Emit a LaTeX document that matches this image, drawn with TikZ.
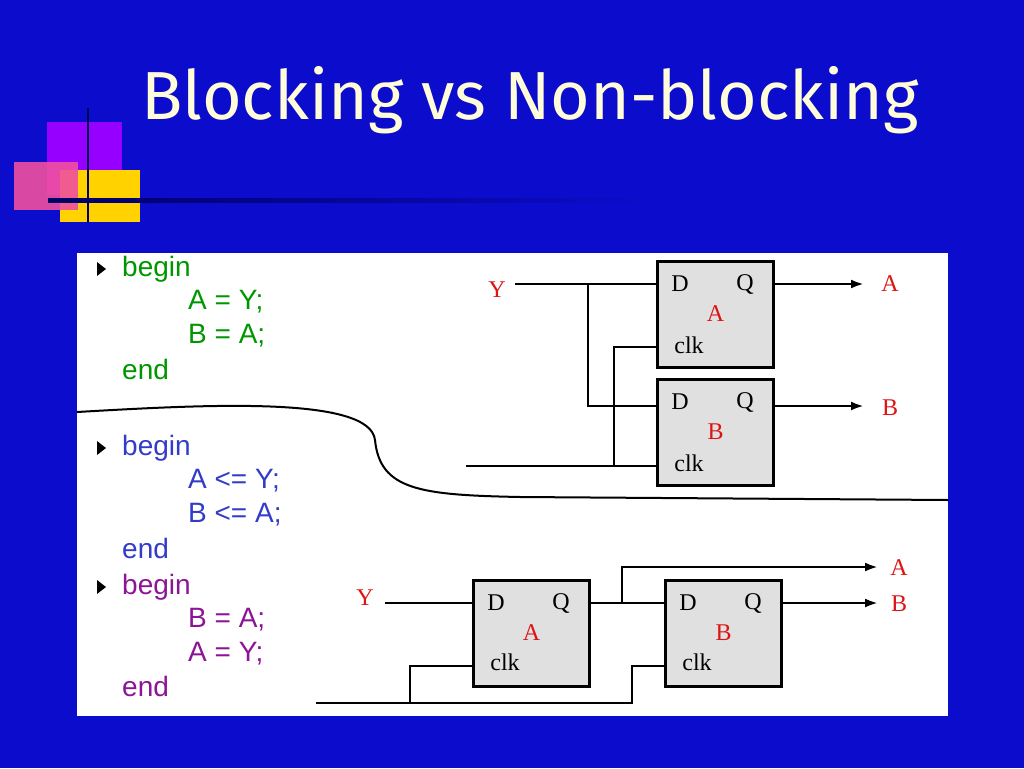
\documentclass[tikz,border=0pt]{standalone}
\usepackage{fontspec}
\setmainfont{Liberation Serif}
\newfontfamily\arialf{Liberation Sans}
\newfontfamily\titlef{Fira Sans}
\usetikzlibrary{arrows.meta}
\definecolor{bg}{RGB}{12,12,204}
\definecolor{gfill}{RGB}{224,224,224}
\definecolor{cgreen}{RGB}{0,150,0}
\definecolor{cblue}{RGB}{50,60,200}
\definecolor{cpurp}{RGB}{140,20,150}
\definecolor{cred}{RGB}{220,20,20}
\definecolor{dviolet}{RGB}{150,0,255}
\definecolor{dpink}{RGB}{240,80,160}
\definecolor{dyellow}{RGB}{255,210,0}
\begin{document}
\begin{tikzpicture}[x=1pt,y=-1pt,
  ff/.style={draw=black,line width=3pt,fill=gfill,minimum width=116pt,minimum height=106pt,anchor=north west},
  wire/.style={line width=2.5pt,black},
  arr/.style={wire,-{Latex[length=13pt,width=9pt]}},
  pin/.style={font=\fontsize{24}{24}\selectfont,inner sep=0pt},
  code/.style={font=\arialf\fontsize{28}{30}\selectfont,anchor=west,inner sep=0pt}]
\useasboundingbox (0,0) rectangle (1024,768);
\fill[bg] (0,0) rectangle (1024,768);
% decoration
\fill[dviolet] (47,122) rectangle (122,195);
\fill[dyellow] (60,170) rectangle (140,222);
\fill[dpink,opacity=0.9] (14,162) rectangle (78,210);
\draw[line width=2pt,black!70!blue] (88,108) -- (88,222);
\shade[left color=black!60!blue,right color=bg] (48,198) rectangle (650,202);
\node[font=\titlef\fontsize{68}{70}\selectfont,text=yellow!15!white] (title) at (530,100) {Blocking vs Non-blocking};
% panel
\fill[white] (77,253) rectangle (948,716);
% code
\foreach \y in {269,448,587}{\fill (97,\y-7) -- (106,\y) -- (97,\y+7) -- cycle;}
\node[code,text=cgreen] (c1) at (122,269) {begin};
\node[code,text=cgreen] (c2) at (188,302) {A = Y;};
\node[code,text=cgreen] (c3) at (188,336) {B = A;};
\node[code,text=cgreen] (c4) at (122,369) {end};
\node[code,text=cblue] (d1) at (122,448) {begin};
\node[code,text=cblue] (d2) at (188,481) {A <= Y;};
\node[code,text=cblue] (d3) at (188,515) {B <= A;};
\node[code,text=cblue] (d4) at (122,548) {end};
\node[code,text=cpurp] (e1) at (122,587) {begin};
\node[code,text=cpurp] (e2) at (188,620) {B = A;};
\node[code,text=cpurp] (e3) at (188,654) {A = Y;};
\node[code,text=cpurp] (e4) at (122,686) {end};
% curve
\draw[line width=2pt] (77,412) .. controls (200,405) and (370,395) .. (375,440) .. controls (380,490) and (420,495) .. (520,497) -- (948,500);
% top flip flops
\node[ff] (f1) at (656,260) {};
\node[ff] (f2) at (656,378) {};
\foreach \f/\l in {f1/A,f2/B}{
  \node[pin] at ([shift={(24,24)}]\f.north west) {D};
  \node[pin] at ([shift={(-30,24)}]\f.north east) {Q};
  \node[pin,text=cred] at ([shift={(0,54)}]\f.north) {\l};
  \node[pin] at ([shift={(33,85)}]\f.north west) {clk};}
\node[pin,text=cred] (Y1) at (497,290) {Y};
\coordinate (y1s) at (515,284);
\draw[wire] (y1s) -- (f1.north west |- y1s);
\draw[wire] (588,284) |- (f2.north west |- 0,406);
\coordinate (k1s) at (466,466);
\draw[wire] (k1s) -- (f2.north west |- k1s);
\draw[wire] (614,466) |- (f1.north west |- 0,347);
\coordinate (oA) at (864,284); \coordinate (oB) at (864,406);
\draw[arr] (f1.north east |- oA) -- (oA);
\draw[arr] (f2.north east |- oB) -- (oB);
\node[pin,text=cred] (lA) at (890,284) {A};
\node[pin,text=cred] (lB) at (890,408) {B};
% bottom flip flops
\node[ff] (f3) at (472,579) {};
\node[ff] (f4) at (664,579) {};
\foreach \f/\l in {f3/A,f4/B}{
  \node[pin] at ([shift={(24,24)}]\f.north west) {D};
  \node[pin] at ([shift={(-30,24)}]\f.north east) {Q};
  \node[pin,text=cred] at ([shift={(0,54)}]\f.north) {\l};
  \node[pin] at ([shift={(33,83)}]\f.north west) {clk};}
\node[pin,text=cred] (Y2) at (365,598) {Y};
\coordinate (y2s) at (385,603);
\draw[wire] (y2s) -- (f3.north west |- y2s);
\draw[wire] (f3.north east |- y2s) -- (f4.north west |- y2s);
\coordinate (oA2) at (878,567); \coordinate (oB2) at (878,603);
\draw[arr] (622,603) |- (oA2);
\draw[arr] (f4.north east |- oB2) -- (oB2);
\node[pin,text=cred] (lA2) at (899,568) {A};
\node[pin,text=cred] (lB2) at (899,604) {B};
\coordinate (k2s) at (316,703);
\draw[wire] (k2s) -- (632,703) |- (f4.north west |- 0,666);
\draw[wire] (410,703) |- (f3.north west |- 0,666);
\end{tikzpicture}
\end{document}
